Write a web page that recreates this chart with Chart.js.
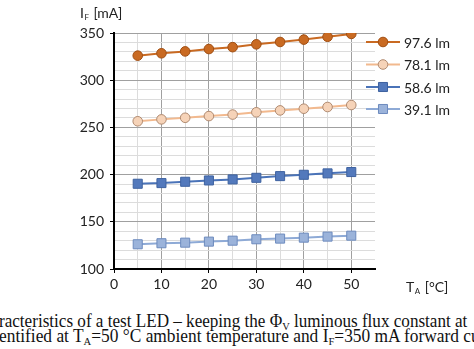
<!DOCTYPE html>
<html><head><meta charset="utf-8">
<script src="https://cdn.jsdelivr.net/npm/chart.js@4.4.0/dist/chart.umd.min.js"></script>
<style>
html,body{margin:0;padding:0;background:#fff;width:474px;height:349px;overflow:hidden;}
#wrap{position:absolute;left:0;top:0;width:474px;height:300px;}
.cap{position:absolute;white-space:nowrap;font-family:"Liberation Serif","DejaVu Serif",serif;font-size:18px;line-height:18px;color:#111;left:-1px;transform-origin:0 0;}
.cap sub{font-size:11px;vertical-align:-3px;line-height:0;}
</style></head>
<body>
<div id="wrap"><canvas id="c" width="474" height="300"></canvas></div>
<div class="cap" style="top:312px;transform:scaleX(0.95);">racteristics of a test LED – keeping the Φ<sub>V</sub> luminous flux constant at</div>
<div class="cap" style="top:327px;transform:scaleX(0.965);">entified at T<sub>A</sub>=50 °C ambient temperature and I<sub>F</sub>=350 mA forward cu</div>
<script>
const temps = [5, 10, 15, 20, 25, 30, 35, 40, 45, 50];
const seriesNames = ['97.6 lm', '78.1 lm', '58.6 lm', '39.1 lm'];
const s976 = [326, 328.5, 330.5, 333, 335, 338, 340.5, 343, 346, 349];
const s781 = [256.5, 258.5, 260.2, 262, 263.6, 266, 268, 269.8, 271.6, 273.7];
const s586 = [190.3, 191, 192.4, 193.8, 194.9, 196.6, 198.4, 199.8, 201.3, 202.7];
const s391 = [126.2, 127.3, 127.9, 129, 130, 131.5, 132.2, 133.2, 134.3, 135.3];
const xTickLabels = [0, 10, 20, 30, 40, 50];
const yTickLabels = [100, 150, 200, 250, 300, 350];

const FONT = 'Lato, "Open Sans", sans-serif';
const styles = [
  {line:'#C96A22', fill:'#C96A22', border:'#A04E12', shape:'circle', r:4.8},
  {line:'#F2B98E', fill:'#F6D3B8', border:'#B08A70', shape:'circle', r:4.8},
  {line:'#4A73B8', fill:'#5379BC', border:'#3E62A0', shape:'rect', r:6.4},
  {line:'#8EAAD6', fill:'#9BB3DA', border:'#6D8BBE', shape:'rect', r:6.4}
];
const seriesData = [s976, s781, s586, s391];
const datasets = seriesData.map((d, i) => ({
  label: seriesNames[i],
  data: temps.map((t, j) => ({x: t, y: d[j]})),
  borderColor: styles[i].line,
  backgroundColor: styles[i].fill,
  pointBackgroundColor: styles[i].fill,
  pointBorderColor: styles[i].border,
  pointBorderWidth: 1,
  pointStyle: styles[i].shape,
  pointRadius: styles[i].r,
  borderWidth: 2,
  tension: 0
}));

function drawSub(ctx, x, y, main, sub, rest, size) {
  ctx.font = size + 'px ' + FONT;
  ctx.textBaseline = 'middle';
  ctx.textAlign = 'left';
  ctx.fillText(main, x, y);
  let w = ctx.measureText(main).width;
  ctx.font = Math.round(size*0.6) + 'px ' + FONT;
  ctx.fillText(sub, x + w + 0.5, y + 4);
  let w2 = ctx.measureText(sub).width;
  ctx.font = size + 'px ' + FONT;
  ctx.fillText(rest, x + w + w2 + 5, y);
}

const decor = {
  id: 'decor',
  afterDraw(chart) {
    const ctx = chart.ctx;
    ctx.save();
    ctx.fillStyle = '#222';
    drawSub(ctx, 80, 13, 'I', 'F', '[mA]', 14);
    drawSub(ctx, 406, 287, 'T', 'A', '[°C]', 14);
    // legend
    const ys = [42, 64.5, 87, 109];
    chart.data.datasets.forEach((ds, i) => {
      const y = ys[i];
      ctx.strokeStyle = ds.borderColor;
      ctx.lineWidth = 2;
      ctx.beginPath(); ctx.moveTo(366, y); ctx.lineTo(400, y); ctx.stroke();
      ctx.fillStyle = ds.pointBackgroundColor;
      ctx.strokeStyle = ds.pointBorderColor;
      ctx.lineWidth = 1;
      Chart.helpers.drawPoint(ctx, {pointStyle: ds.pointStyle, rotation: 0, radius: ds.pointRadius, borderWidth: 1}, 383, y);
      ctx.fillStyle = '#222';
      ctx.font = '14px ' + FONT;
      ctx.textAlign = 'left';
      ctx.textBaseline = 'middle';
      ctx.fillText(ds.label, 404, y + 1);
    });
    ctx.restore();
  }
};

new Chart(document.getElementById('c'), {
  type: 'line',
  data: {datasets},
  options: {
    responsive: false,
    animation: false,
    devicePixelRatio: 1,
    layout: {padding: {left: 0, right: 99, top: 33, bottom: 7}},
    plugins: {legend: {display: false}, tooltip: {enabled: false}},
    scales: {
      x: {
        type: 'linear', min: 0, max: 55,
        afterFit(s) { s.height = 24; },
        ticks: {
          stepSize: 5, autoSkip: false, maxRotation: 0, padding: 3,
          color: '#222', font: {family: FONT, size: 14},
          callback: v => xTickLabels.includes(v) ? String(v) : ''
        },
        grid: {
          color: c => c.tick.value === 55 ? 'rgba(0,0,0,0)' : (c.tick.value % 10 === 0 ? '#a0a0a0' : '#dcdcdc'),
          tickColor: c => xTickLabels.includes(c.tick.value) ? '#000' : 'rgba(0,0,0,0)',
          tickLength: 4, lineWidth: 1
        },
        border: {color: '#000', width: 2}
      },
      y: {
        type: 'linear', min: 100, max: 350,
        afterFit(s) { s.width = 114; },
        ticks: {
          stepSize: 10, autoSkip: false, padding: 6,
          color: '#222', font: {family: FONT, size: 14},
          callback: v => yTickLabels.includes(v) ? String(v) : ''
        },
        grid: {
          color: c => c.tick.value % 50 === 0 ? '#a0a0a0' : '#dcdcdc',
          tickColor: c => yTickLabels.includes(c.tick.value) ? '#000' : 'rgba(0,0,0,0)',
          tickLength: 4, lineWidth: 1
        },
        border: {color: '#000', width: 2}
      }
    }
  },
  plugins: [decor]
});
</script>
</body></html>
